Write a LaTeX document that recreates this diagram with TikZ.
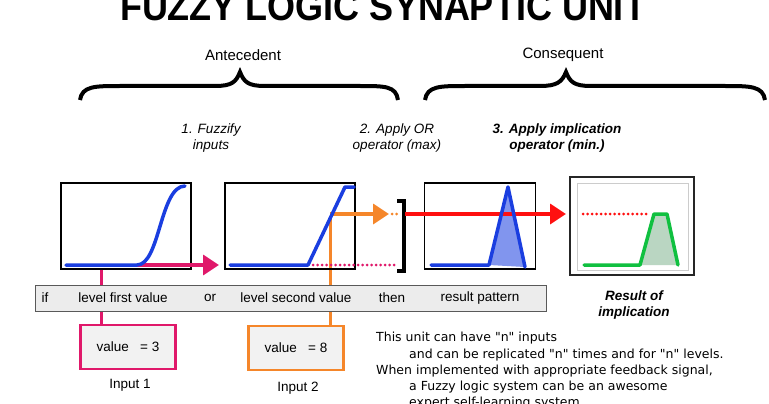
\documentclass[tikz,border=0pt]{standalone}
\usepackage{fontspec}
\setmainfont{Liberation Sans}
\newfontfamily\dejavu{DejaVu Sans}
\usetikzlibrary{arrows.meta}
\definecolor{pk}{HTML}{E0186A}
\definecolor{og}{HTML}{F5862A}
\definecolor{bl}{HTML}{1A3EE0}
\definecolor{rd}{HTML}{FF1010}
\definecolor{gn}{HTML}{10C040}
\begin{document}
\begin{tikzpicture}[x=1pt,y=-1pt,
  box/.style={draw=black,line width=1.2pt},
  curve/.style={line width=3.5pt,line cap=round,line join=round},
  brace/.style={line width=4pt},
  lbl/.style={font=\fontsize{13.5}{16}\selectfont,align=center},
  dots/.style={line width=3pt,line cap=round,dash pattern=on 0pt off 4.5pt},
  arr/.style={line width=3.5pt,-{Triangle[length=16pt,width=20pt]}},
  vbox/.style={line width=2.5pt,fill=gray!10,minimum width=95pt,minimum height=44pt,font=\fontsize{13.5}{16}\selectfont}]
\useasboundingbox (0,0) rectangle (769,404);
\clip (0,0) rectangle (769,404);
\fill[white] (0,0) rectangle (769,404);
\node[anchor=base,font=\fontsize{40}{40}\selectfont\bfseries,xscale=0.9] (title) at (383,21) {FUZZY LOGIC SYNAPTIC UNIT};
\node[font=\fontsize{15}{17}\selectfont] (ant) at (243,55) {Antecedent};
\node[font=\fontsize{15}{17}\selectfont] (con) at (563,55) {Consequent};
\draw[brace] (80,100) .. controls (82,86) and (95,86) .. (120,86) -- (215,86) .. controls (232,86) and (236,82) .. (240,72) .. controls (244,82) and (248,86) .. (265,86) -- (360,86) .. controls (385,86) and (396,86) .. (398,100);
\draw[brace] (425,100) .. controls (427,86) and (440,86) .. (465,86) -- (540,86) .. controls (557,86) and (562,82) .. (566,72) .. controls (570,82) and (574,86) .. (591,86) -- (725,86) .. controls (750,86) and (763,86) .. (765,100);
\node[align=center,font=\fontsize{13.5}{16.5}\selectfont\itshape] (s1) at (211,138) {1. Fuzzify\\inputs};
\node[align=center,font=\fontsize{13.5}{16.5}\selectfont\itshape] (s2) at (397,138) {2. Apply OR\\operator (max)};
\node[align=center,font=\fontsize{13.5}{16.5}\selectfont\bfseries\itshape] (s3) at (557,138) {3. Apply implication\\operator (min.)};
% connectors to inputs (drawn under bar)
\node[vbox,draw=pk] (v1) at (128,347) {value\ \ \ = 3};
\node[vbox,draw=og] (v2) at (296,348) {value\ \ \ = 8};
\node[lbl] (in1) at (130,385) {Input 1};
\node[lbl] (in2) at (298,388) {Input 2};
\coordinate (p1) at (101,269);
\coordinate (o1) at (330,217);
\draw[pk,line width=3pt] (p1) -- (v1.north -| p1);
\draw[og,line width=3pt] (o1) -- (v2.north -| o1);
% bar
\draw[gray!70!black,fill=gray!15] (35,285) rectangle (546,311);
\node[lbl] (if) at (45,298) {if};
\node[lbl] (l1) at (123,298) {level first value};
\node[lbl] (or) at (210,298) {or};
\node[lbl] (l2) at (296,298) {level second value};
\node[lbl] (then) at (392,298) {then};
\node[lbl] (rp) at (480,298) {result pattern};
% box1
\node[box,minimum width=130pt,minimum height=86pt,inner sep=0] (b1) at (126,226) {};
\coordinate (a1s) at (137,265);
\coordinate (a1e) at (219,265);
\draw[pk,arr] (a1s) -- (a1e);
\draw[bl,curve] (66,265) -- (137,265) .. controls (160,265) and (160,186) .. (185,186);
% box2
\node[box,minimum width=130pt,minimum height=86pt,inner sep=0] (b2) at (290,226) {};
\draw[pk,dots] (313,265) -- (398,265);
\coordinate (a2e) at (389,214);
\draw[og,arr] (330,214) -- (a2e);
\draw[og,dots] (392,214) -- (399,214);
\draw[bl,curve] (230,265) -- (308,265) -- (345,187) -- (354,187);
% bracket
\draw[line width=3.5pt] (397,201) -- (404,201) -- (404,271) -- (397,271);
% box3
\node[box,minimum width=111pt,minimum height=86pt,inner sep=0] (b3) at (480,226) {};
\fill[bl!55] (489,265) -- (508,187) -- (525,267) -- cycle;
\coordinate (rs) at (405,214);
\coordinate (re) at (566,214);
\draw[rd,arr] (rs) -- (re);
\draw[bl,curve] (431,265) -- (489,265) -- (508,187) -- (525,267);
% result
\draw[line width=1.2pt,draw=gray!30!black,fill=white] (570,177) rectangle (694,275);
\node[draw=gray!40,line width=0.8pt,minimum width=111pt,minimum height=87pt,inner sep=0] (b4) at (632.5,226.5) {};
\draw[rd,dots] (583,214) -- (650,214);
\fill[gn!40!gray!40] (640,265) -- (654,214) -- (667,214) -- (678,265) -- cycle;
\draw[gn,curve] (584,265) -- (640,265) -- (654,214) -- (667,214) -- (678,265);
\node[align=center,font=\fontsize{13.5}{16.5}\selectfont\bfseries\itshape] (res) at (634,305) {Result of\\implication};
% paragraph
\node[anchor=north west,align=left,font=\dejavu\fontsize{12.5}{16.3}\selectfont,inner sep=0] (par) at (376,332) {This unit can have "n" inputs\\
\hspace*{33pt}and can be replicated "n" times and for "n" levels.\\
When implemented with appropriate feedback signal,\\
\hspace*{33pt}a Fuzzy logic system can be an awesome\\
\hspace*{33pt}expert self-learning system.};
\end{tikzpicture}
\end{document}
